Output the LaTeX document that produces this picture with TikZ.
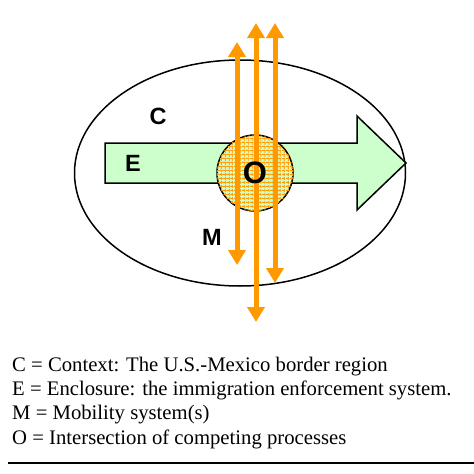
\documentclass[tikz,border=0pt]{standalone}
\usepackage{fontspec}
\setmainfont{Liberation Serif}
\setsansfont{Liberation Sans}
\usetikzlibrary{arrows.meta,shapes.geometric,patterns.meta}
\definecolor{mobor}{RGB}{255,153,0}
\definecolor{enclgreen}{RGB}{204,255,204}
\tikzset{
  letter/.style={font=\sffamily\bfseries\fontsize{23.5}{23.5}\selectfont},
  legend/.style={anchor=base west, inner sep=0pt, font=\fontsize{20.7}{24}\selectfont},
  mob/.style={draw=mobor, line width=5pt, {Triangle[width=17pt,length=15pt]}-{Triangle[width=17pt,length=15pt]}}
}
\begin{document}
\begin{tikzpicture}[x=1pt,y=-1pt]
\useasboundingbox (0,0) rectangle (474,474);

\node[draw, ellipse, line width=1.5pt, inner sep=0pt, minimum width=331pt, minimum height=226pt] (ctx) at (240,173) {};

% enclosure arrow
\path[draw, line width=1.5pt, fill=enclgreen] (105,143) -- (357,143) -- (357,116) -- (406,163) -- (357,210) -- (357,183) -- (105,183) -- cycle;

\node[draw, circle, line width=1.5pt, inner sep=0pt, minimum size=76pt, fill=enclgreen,
  postaction={pattern={Lines[angle=0,distance=4pt,line width=1.5pt]}, pattern color=mobor},
  postaction={pattern={Lines[angle=90,distance=4pt,line width=1.5pt]}, pattern color=mobor}] (isect) at (255,173) {};

% mobility arrows
\coordinate (m1t) at (237,42);
\coordinate (m1b) at (237,265);
\coordinate (m2t) at (256,23);
\coordinate (m2b) at (256,322);
\coordinate (m3t) at (275,23);
\coordinate (m3b) at (275,283);
\path[mob] (m1b) -- (m1t);
\path[mob] (m2b) -- (m2t);
\path[mob] (m3b) -- (m3t);

\node[letter] (C) at (158,116) {C};
\node[letter] (E) at (133,163) {E};
\node[letter] (M) at (212,237) {M};
\node[font=\sffamily\bfseries\fontsize{31}{31}\selectfont] (O) at (isect.center) {O};

\node[legend] (legC) at (12,371) {C = Context: The U.S.-Mexico border region};
\node[legend] (legE) at (12,395.3) {E = Enclosure: the immigration enforcement system.};
\node[legend] (legM) at (12,419.6) {M = Mobility system(s)};
\node[legend] (legO) at (12,444) {O = Intersection of competing processes};

\coordinate (rulel) at (8,463);
\coordinate (ruler) at (474,463);
\path[draw, line width=1.5pt] (rulel) -- (ruler);
\end{tikzpicture}
\end{document}
